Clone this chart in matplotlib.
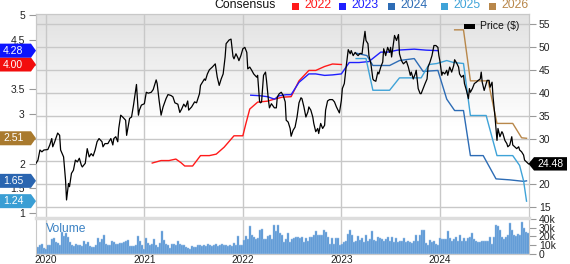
import numpy as np
import matplotlib
matplotlib.use("Agg")
import matplotlib.pyplot as plt
import matplotlib.transforms as mtransforms
from matplotlib.patches import Polygon, Rectangle

plt.rcParams['font.family'] = ['Liberation Sans', 'DejaVu Sans']

# price, weekly-ish vertices (decimal year, $)
price_t = [2019.90, 2019.92, 2019.94, 2019.96, 2019.98, 2020.02, 2020.04, 2020.06, 2020.07, 2020.09,
           2020.12, 2020.14, 2020.15, 2020.18, 2020.20, 2020.21, 2020.23, 2020.24, 2020.26, 2020.28,
           2020.30, 2020.32, 2020.34, 2020.36, 2020.37, 2020.40, 2020.42, 2020.44, 2020.46, 2020.48,
           2020.50, 2020.52, 2020.54, 2020.57, 2020.58, 2020.60, 2020.63, 2020.64, 2020.66, 2020.68,
           2020.69, 2020.71, 2020.73, 2020.74, 2020.76, 2020.78, 2020.81, 2020.82, 2020.85, 2020.87,
           2020.89, 2020.92, 2020.94, 2020.95, 2020.97, 2021.00, 2021.02, 2021.04, 2021.07, 2021.09,
           2021.12, 2021.13, 2021.15, 2021.17, 2021.19, 2021.22, 2021.24, 2021.27, 2021.29, 2021.31,
           2021.34, 2021.36, 2021.38, 2021.40, 2021.42, 2021.44, 2021.45, 2021.48, 2021.51, 2021.53,
           2021.56, 2021.57, 2021.59, 2021.61, 2021.62, 2021.64, 2021.66, 2021.69, 2021.72, 2021.74,
           2021.76, 2021.78, 2021.80, 2021.82, 2021.83, 2021.86, 2021.88, 2021.90, 2021.91, 2021.93,
           2021.95, 2021.96, 2021.98, 2022.00, 2022.02, 2022.04, 2022.05, 2022.07, 2022.09, 2022.11,
           2022.14, 2022.15, 2022.17, 2022.18, 2022.19, 2022.21, 2022.23, 2022.24, 2022.26, 2022.27,
           2022.29, 2022.32, 2022.34, 2022.35, 2022.37, 2022.39, 2022.41, 2022.43, 2022.44, 2022.46,
           2022.48, 2022.49, 2022.51, 2022.53, 2022.55, 2022.57, 2022.59, 2022.60, 2022.62, 2022.64,
           2022.66, 2022.67, 2022.69, 2022.71, 2022.72, 2022.74, 2022.76, 2022.77, 2022.79, 2022.81,
           2022.83, 2022.84, 2022.86, 2022.88, 2022.91, 2022.93, 2022.95, 2022.98, 2023.00, 2023.01,
           2023.03, 2023.05, 2023.07, 2023.09, 2023.10, 2023.12, 2023.14, 2023.15, 2023.17, 2023.19,
           2023.21, 2023.22, 2023.24, 2023.25, 2023.27, 2023.28, 2023.30, 2023.32, 2023.33, 2023.35,
           2023.37, 2023.38, 2023.40, 2023.42, 2023.43, 2023.45, 2023.47, 2023.49, 2023.50, 2023.51,
           2023.53, 2023.54, 2023.56, 2023.58, 2023.59, 2023.61, 2023.63, 2023.64, 2023.66, 2023.68,
           2023.70, 2023.71, 2023.73, 2023.75, 2023.76, 2023.78, 2023.80, 2023.81, 2023.83, 2023.85,
           2023.87, 2023.88, 2023.90, 2023.92, 2023.93, 2023.94, 2023.96, 2023.98, 2023.99, 2024.00,
           2024.02, 2024.03, 2024.05, 2024.07, 2024.08, 2024.10, 2024.12, 2024.14, 2024.15, 2024.17,
           2024.19, 2024.20, 2024.22, 2024.24, 2024.25, 2024.27, 2024.29, 2024.30, 2024.31, 2024.33,
           2024.35, 2024.37, 2024.39, 2024.41, 2024.42, 2024.43, 2024.45, 2024.47, 2024.48, 2024.50,
           2024.51, 2024.53, 2024.54, 2024.56, 2024.58, 2024.59, 2024.61, 2024.63, 2024.64, 2024.66,
           2024.68, 2024.69, 2024.71, 2024.73, 2024.74, 2024.76, 2024.78, 2024.80, 2024.81, 2024.83,
           2024.85, 2024.86, 2024.88, 2024.90]
price_v = [24.6, 25.3, 27.5, 27.1, 27.5, 27.6, 28.6, 30.0, 28.2, 29.3,
           31.2, 30.7, 27.5, 26.0, 20.9, 16.6, 20.2, 19.5, 22.4, 23.1,
           25.3, 24.9, 25.7, 24.2, 23.8, 24.6, 27.8, 26.0, 26.7, 26.2,
           27.5, 29.3, 30.0, 29.3, 28.2, 28.9, 28.9, 29.3, 30.0, 28.6,
           30.0, 30.4, 29.3, 32.2, 35.1, 34.7, 34.0, 30.7, 34.4, 34.7,
           37.3, 41.8, 35.1, 36.2, 37.3, 37.6, 40.1, 39.9, 40.1, 40.7,
           42.8, 42.0, 38.3, 35.1, 36.9, 38.7, 39.6, 39.4, 39.1, 37.8,
           37.5, 35.7, 36.5, 37.5, 36.9, 38.2, 36.2, 36.9, 38.0, 37.8,
           39.8, 41.6, 42.3, 43.0, 42.7, 44.1, 45.0, 45.6, 46.3, 43.4,
           41.6, 43.0, 44.1, 47.8, 50.7, 51.5, 51.7, 47.9, 47.4, 48.5,
           47.6, 47.0, 48.1, 49.6, 49.9, 48.8, 45.2, 45.6, 44.9, 44.1,
           43.4, 43.8, 38.0, 37.8, 38.0, 43.8, 44.5, 42.7, 38.3, 36.7,
           37.6, 36.7, 36.7, 39.1, 39.8, 40.1, 39.4, 38.0, 34.0, 33.6,
           32.2, 30.5, 31.8, 32.5, 34.7, 37.8, 38.9, 38.7, 36.9, 34.7,
           35.8, 36.9, 36.2, 34.7, 33.3, 31.5, 32.2, 31.1, 33.3, 32.2,
           32.9, 36.2, 38.2, 38.5, 38.5, 38.0, 36.9, 35.6, 38.3, 40.9,
           42.0, 45.9, 49.4, 48.5, 49.2, 48.1, 48.8, 48.5, 48.1, 48.6,
           48.5, 50.3, 53.4, 51.4, 50.7, 48.1, 46.3, 43.0, 42.7, 42.5,
           44.5, 44.1, 45.6, 46.7, 49.6, 48.1, 49.9, 48.8, 49.9, 47.8,
           51.0, 52.5, 51.4, 52.7, 48.5, 47.0, 46.3, 46.5, 46.9, 45.6,
           43.8, 44.5, 43.0, 44.1, 44.9, 40.9, 39.8, 39.8, 40.9, 42.0,
           43.0, 45.6, 46.7, 48.1, 49.2, 50.3, 50.3, 49.9, 48.1, 47.0,
           43.8, 44.5, 44.1, 44.9, 43.8, 45.6, 44.5, 45.9, 47.2, 46.5,
           45.6, 44.1, 43.4, 43.8, 42.0, 40.5, 38.7, 40.9, 40.1, 40.9,
           42.0, 42.3, 42.7, 43.0, 44.5, 42.3, 40.5, 42.0, 42.7, 42.7,
           41.2, 42.3, 39.1, 34.7, 29.6, 32.2, 30.4, 31.5, 31.1, 29.6,
           28.9, 28.2, 28.6, 30.4, 28.6, 28.2, 27.8, 28.2, 27.5, 27.1,
           26.4, 25.3, 24.9, 24.48]

# consensus EPS by fiscal year
eps22_t = [2021.08, 2021.17, 2021.25, 2021.32, 2021.37, 2021.41, 2021.49, 2021.57, 2021.66, 2021.73,
           2021.81, 2021.91, 2022.00, 2022.03, 2022.07, 2022.15, 2022.25, 2022.32, 2022.40, 2022.49,
           2022.57, 2022.67, 2022.74, 2022.83, 2022.91, 2023.00]
eps22_v = [2.01, 2.06, 2.06, 2.09, 2.02, 1.95, 1.95, 2.16, 2.16, 2.19,
           2.33, 2.56, 2.56, 2.80, 3.10, 3.24, 3.26, 3.30, 3.34, 3.35,
           3.67, 3.88, 3.88, 3.96, 4.01, 4.00]
eps23_t = [2022.08, 2022.17, 2022.25, 2022.32, 2022.37, 2022.44, 2022.49, 2022.57, 2022.67, 2022.74,
           2022.83, 2022.91, 2023.00, 2023.08, 2023.18, 2023.28, 2023.40, 2023.47, 2023.57, 2023.74,
           2023.86, 2023.98]
eps23_v = [3.38, 3.37, 3.35, 3.30, 3.37, 3.39, 3.39, 3.64, 3.81, 3.81,
           3.78, 3.79, 3.81, 4.04, 4.04, 4.06, 4.25, 4.25, 4.29, 4.31,
           4.29, 4.28]
eps24_t = [2023.15, 2023.26, 2023.32, 2023.49, 2023.59, 2023.74, 2023.83, 2023.98, 2024.07, 2024.15,
           2024.24, 2024.31, 2024.44, 2024.57, 2024.71, 2024.85, 2024.88]
eps24_v = [4.23, 4.18, 3.98, 3.98, 4.08, 4.12, 3.86, 3.88, 3.30, 3.07,
           3.07, 2.16, 2.16, 1.69, 1.67, 1.64, 1.65]
eps25_t = [2023.15, 2023.25, 2023.32, 2023.49, 2023.59, 2023.81, 2023.89, 2023.97, 2024.07, 2024.14,
           2024.24, 2024.31, 2024.47, 2024.58, 2024.74, 2024.81, 2024.85, 2024.88]
eps25_v = [4.12, 4.12, 3.48, 3.48, 3.73, 3.73, 4.00, 4.02, 4.08, 4.04,
           4.02, 2.97, 2.97, 2.16, 2.16, 1.96, 1.65, 1.24]
eps26_t = [2024.15, 2024.24, 2024.31, 2024.49, 2024.58, 2024.74, 2024.83, 2024.88]
eps26_v = [4.70, 4.70, 3.67, 3.67, 2.81, 2.81, 2.52, 2.51]

# weekly volume, thousands of shares
vol_k = [8.0, 10.6, 11.7, 6.8, 5.3, 10.6, 9.8, 17.4, 18.2, 13.6, 12.5, 10.6, 25.0, 21.0, 24.0, 19.3,
         13.6, 10.6, 9.1, 11.0, 9.8, 9.8, 8.7, 14.4, 11.7, 13.6, 8.7, 8.3, 8.3, 9.8, 18.2, 13.6,
         17.4, 21.2, 11.4, 9.8, 9.8, 14.4, 13.6, 11.7, 11.7, 12.5, 12.9, 13.6, 14.4, 15.5, 8.7, 8.7,
         8.7, 9.8, 20.5, 14.4, 10.6, 5.3, 18.2, 12.9, 9.8, 11.0, 16.7, 9.8, 8.3, 12.9, 25.8, 15.5,
         11.7, 9.8, 6.8, 11.0, 11.7, 9.8, 14.4, 11.0, 9.8, 9.8, 8.3, 7.2, 6.1, 9.1, 8.0, 8.3,
         9.8, 10.6, 9.1, 10.6, 8.7, 11.4, 9.8, 8.7, 9.8, 11.4, 8.7, 10.6, 11.0, 9.8, 10.6, 9.1,
         10.6, 8.7, 12.9, 10.6, 20.5, 10.6, 9.8, 15.9, 20.5, 16.7, 31.8, 22.0, 19.7, 17.4, 18.2, 26.9,
         28.0, 17.4, 16.7, 20.5, 21.2, 16.7, 32.6, 26.5, 32.6, 24.2, 21.2, 13.6, 17.4, 24.2, 13.6, 17.4,
         18.2, 18.9, 18.9, 18.2, 19.3, 13.6, 18.2, 14.4, 19.3, 19.7, 21.2, 26.1, 22.0, 22.0, 22.0, 27.3,
         25.0, 18.9, 11.7, 18.2, 11.7, 18.2, 18.2, 10.6, 11.7, 13.6, 14.4, 23.1, 26.9, 21.2, 13.6, 15.2,
         20.5, 15.9, 18.2, 13.6, 21.2, 14.4, 16.7, 26.5, 15.5, 14.4, 18.9, 18.2, 16.7, 14.4, 17.4, 18.9,
         15.2, 19.3, 13.6, 18.2, 13.6, 15.2, 15.2, 18.2, 13.6, 14.4, 13.6, 12.1, 15.2, 21.2, 15.2, 22.0,
         26.9, 26.9, 12.9, 9.8, 15.9, 13.6, 15.2, 11.0, 10.6, 18.2, 17.4, 17.4, 17.4, 25.8, 18.2, 15.2,
         16.7, 18.9, 15.2, 22.0, 14.4, 18.2, 14.4, 18.2, 18.9, 24.2, 17.4, 14.4, 13.6, 13.6, 15.2, 14.4,
         15.2, 15.2, 18.9, 11.4, 18.9, 33.3, 31.8, 26.9, 19.7, 17.4, 18.9, 21.2, 35.6, 26.9, 21.2, 20.5,
         22.7, 22.0, 37.1, 29.5, 25.0, 24.2]

years = [2020, 2021, 2022, 2023, 2024]
price_ticks = [15, 20, 25, 30, 35, 40, 45, 50, 55]
eps_ticks = [1, 1.5, 2, 2.5, 3, 3.5, 4, 4.5, 5]
vol_ticks = [0, 10, 20, 30, 40]

series = [('2022', eps22_t, eps22_v, '#ff1a1a', '#f20d0d'),
          ('2023', eps23_t, eps23_v, '#1f1fff', '#0d14ff'),
          ('2024', eps24_t, eps24_v, '#2d6cb5', '#2a65b0'),
          ('2025', eps25_t, eps25_v, '#3fa3d8', '#3a9ed4'),
          ('2026', eps26_t, eps26_v, '#b8874a', '#a97a2e')]

W, H = 570, 264
GRID = '#c8c8c8'


def fx(px):
    return px / W


def fy(py):
    return 1 - py / H


fig = plt.figure(figsize=(W / 100, H / 100), dpi=100)
ax = fig.add_axes([fx(36), fy(217), (529 - 36) / W, (217 - 14) / H])
ax2 = ax.twinx()
axv = fig.add_axes([fx(36), fy(254), (529 - 36) / W, (254 - 218) / H])

x0, x1 = 2019.90, 2024.905
e0, e1 = 0.92, 5.02
p0, p1 = 12.88, 57.18

# background gradient, grey at top fading to white
t = np.linspace(0, 1, 200)
c = 0.885 + 0.115 * np.clip(t / 0.55, 0, 1)
ax.imshow(np.dstack([c, c, c]).reshape(200, 1, 3), extent=[x0, x1, e0, e1],
          aspect='auto', origin='upper', zorder=0)

# horizontal grid follows the price axis
for p in price_ticks:
    ax.axhline(e0 + (p - p0) * (e1 - e0) / (p1 - p0), color=GRID, lw=1, zorder=0.5)
ax.set_xticks(years)
ax.grid(axis='x', color=GRID, lw=1, zorder=0.5)

for name, tt, vv, col, bcol in series:
    ax.plot(tt, vv, color=col, lw=1.0, zorder=2)

ax2.plot(price_t, price_v, color='black', lw=0.9, zorder=3)

# labels that sit under a value badge in the original are left blank
hidden_eps = [4, 2.5]
hidden_price = [25]

ax.set_xlim(x0, x1)
ax.set_ylim(e0, e1)
ax2.set_ylim(p0, p1)
ax.set_yticks(eps_ticks)
ax.set_yticklabels(['' if v in hidden_eps else '%g' % v for v in eps_ticks])
ax2.set_yticks(price_ticks)
ax2.set_yticklabels(['' if v in hidden_price else str(v) for v in price_ticks])
ax.tick_params(axis='x', length=0, labelbottom=False)
ax.tick_params(axis='y', length=5, color='#999999', labelsize=7.5, pad=3, labelcolor='#222222')
ax2.tick_params(axis='y', length=5, color='#999999', labelsize=7.5, pad=2, labelcolor='#222222')
for a in (ax, ax2):
    for s in a.spines.values():
        s.set_color(GRID)
    a.spines['bottom'].set_visible(False)

# volume panel
vol_x = np.linspace(2019.92, 2024.89, len(vol_k))
step = vol_x[1] - vol_x[0]
axv.bar(vol_x, vol_k, width=step, color='#4f90d2', edgecolor='#a8c8ea',
        linewidth=0.35, zorder=2)
axv.set_xlim(x0, x1)
axv.set_ylim(0, 41.1)
axv.set_xticks(years)
axv.set_xticklabels([str(y) for y in years])
axv.grid(axis='x', color=GRID, lw=1, zorder=0.5)
axv.yaxis.tick_right()
axv.set_yticks(vol_ticks)
axv.set_yticklabels(['0' if v == 0 else '%dk' % v for v in vol_ticks])
axv.tick_params(axis='y', length=5, color='#999999', labelsize=7.5, pad=2, labelcolor='#222222')
axv.tick_params(axis='x', length=0, labelsize=7.3, pad=0.8, labelcolor='#222222')
for s in axv.spines.values():
    s.set_color(GRID)
axv.spines['top'].set_color('#dddddd')
axv.spines['top'].set_linewidth(2.5)
axv.text(0.02, 0.69, 'Volume', transform=axv.transAxes, color='#3b82c4',
         fontsize=8.7, va='center', ha='left')

# top legend
fig.text(fx(214), fy(5.5), 'Consensus', fontsize=8.8, va='center', ha='left', color='#111111')
sq_x = [292, 339, 388, 441, 489]
for (name, tt, vv, col, bcol), sx in zip(series, sq_x):
    fig.add_artist(Rectangle((fx(sx), fy(9.5)), 7 / W, 7 / H, facecolor=col,
                             edgecolor='none', transform=fig.transFigure))
    fig.text(fx(sx + 12), fy(5.5), name, fontsize=8.8, va='center', ha='left', color=col)

fig.add_artist(Rectangle((fx(464), fy(28.5)), 11 / W, 4.5 / H, facecolor='black',
                         edgecolor='none', transform=fig.transFigure))
fig.text(fx(480), fy(26), 'Price ($)', fontsize=7.5, va='center', ha='left', color='#111111')

# value badges on the left (consensus) and right (price)
tr_e = mtransforms.blended_transform_factory(fig.transFigure, ax.transData)
he = 7 / 49.5
for name, tt, vv, col, bcol in series:
    v = vv[-1]
    verts = [(0, v - he), (fx(31), v - he), (fx(36), v), (fx(31), v + he), (0, v + he)]
    fig.add_artist(Polygon(verts, closed=True, transform=tr_e, facecolor=bcol,
                           edgecolor='none', zorder=5))
    fig.text(fx(3), v, '%.2f' % v, transform=tr_e, color='white', fontsize=7.5,
             va='center', ha='left', zorder=6)

tr_p = mtransforms.blended_transform_factory(fig.transFigure, ax2.transData)
hp = 6.7 / 4.583
last = price_v[-1]
verts = [(fx(528.5), last), (fx(534), last + hp), (fx(567), last + hp),
         (fx(567), last - hp), (fx(534), last - hp)]
fig.add_artist(Polygon(verts, closed=True, transform=tr_p, facecolor='black',
                       edgecolor='none', zorder=5))
fig.text(fx(537), last, '%.2f' % last, transform=tr_p, color='white', fontsize=7.5,
         va='center', ha='left', zorder=6)

fig.savefig('out.png', dpi=100)
